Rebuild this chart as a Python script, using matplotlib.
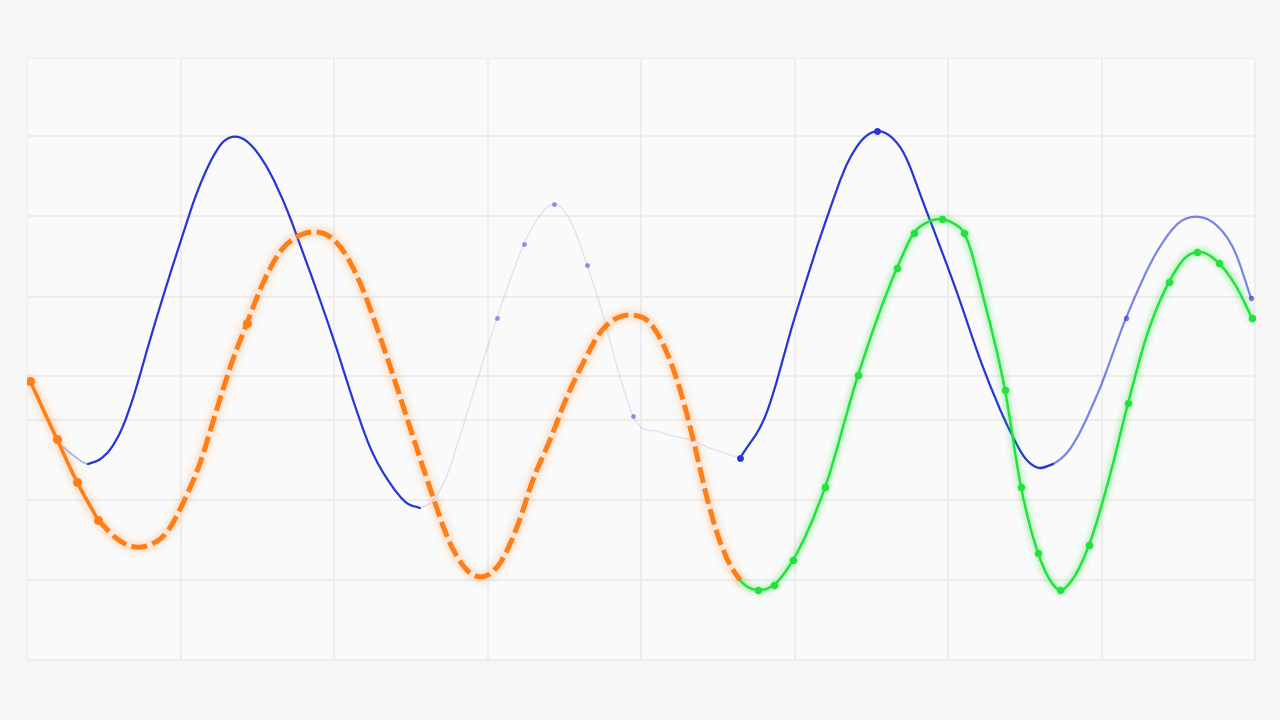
import numpy as np
import matplotlib.pyplot as plt
from matplotlib.path import Path
from matplotlib.patches import PathPatch

# values (x: 0..8 grid columns, y: arbitrary units)
blue_x = [0.228, 0.313, 0.397, 0.476, 0.541, 0.620, 0.700, 0.782, 0.886, 0.997,
          1.107, 1.212, 1.270, 1.342, 1.420, 1.472, 1.583, 1.694, 1.798, 1.909,
          2.020, 2.124, 2.235, 2.365, 2.476, 2.560, 2.625, 2.723, 2.853, 2.964,
          3.062, 3.147, 3.238, 3.329, 3.433, 3.537, 3.648, 3.752, 3.850, 3.948,
          4.124, 4.319, 4.482, 4.645, 4.808, 5.003, 5.199, 5.355, 5.440, 5.537,
          5.622, 5.700, 5.857, 6.046, 6.228, 6.410, 6.502, 6.593, 6.684, 6.775,
          6.977, 7.160, 7.368, 7.511, 7.622, 7.739, 7.870, 7.974]
blue_y = [2.675, 2.54, 2.45, 2.51, 2.63, 2.90, 3.33, 3.875, 4.54, 5.21,
          5.84, 6.29, 6.46, 6.54, 6.50, 6.41, 6.09, 5.625, 5.09, 4.50,
          3.875, 3.25, 2.66, 2.21, 1.96, 1.90, 1.96, 2.25, 3.00, 3.69,
          4.275, 4.75, 5.20, 5.525, 5.70, 5.50, 4.94, 4.31, 3.625, 3.05,
          2.85, 2.75, 2.625, 2.525, 3.04, 4.29, 5.46, 6.25, 6.50, 6.61,
          6.55, 6.375, 5.625, 4.66, 3.66, 2.84, 2.525, 2.40, 2.45, 2.59,
          3.34, 4.275, 5.125, 5.475, 5.54, 5.45, 5.10, 4.525]

orange_x = [0.020, 0.195, 0.326, 0.463, 0.580, 0.651, 0.723, 0.801, 0.912, 1.016,
            1.127, 1.225, 1.329, 1.433, 1.537, 1.648, 1.759, 1.863, 1.974, 2.085,
            2.189, 2.300, 2.410, 2.515, 2.625, 2.756, 2.866, 2.964, 3.081, 3.192,
            3.296, 3.407, 3.518, 3.622, 3.733, 3.844, 3.941, 4.059, 4.169, 4.274,
            4.352, 4.417, 4.495, 4.580, 4.645]
orange_y = [3.49, 2.76, 2.225, 1.75, 1.525, 1.44, 1.41, 1.44, 1.60, 1.96,
            2.46, 3.06, 3.69, 4.21, 4.71, 5.10, 5.29, 5.35, 5.29, 5.04,
            4.625, 4.04, 3.41, 2.79, 2.15, 1.46, 1.125, 1.04, 1.21, 1.66,
            2.25, 2.75, 3.29, 3.71, 4.09, 4.275, 4.31, 4.21, 3.84, 3.25,
            2.66, 2.125, 1.59, 1.19, 1.00]

green_x = [4.645, 4.664, 4.762, 4.866, 4.990, 5.199, 5.414, 5.668, 5.779, 5.870,
           5.961, 6.033, 6.104, 6.241, 6.371, 6.476, 6.586, 6.664, 6.730, 6.808,
           6.919, 7.055, 7.173, 7.296, 7.440, 7.544, 7.622, 7.765, 7.883, 7.980]
green_y = [1.00, 0.96, 0.875, 0.94, 1.25, 2.16, 3.56, 4.90, 5.34, 5.475,
           5.51, 5.46, 5.34, 4.45, 3.375, 2.16, 1.34, 1.00, 0.875, 1.00,
           1.44, 2.31, 3.21, 4.06, 4.725, 5.025, 5.10, 4.96, 4.65, 4.275]

x_grid = [0, 1, 2, 3, 4, 5, 6, 7, 8]
y_grid = [0, 1, 2, 3, 3.55, 4.54, 5.55, 6.55, 7.525]

BLUE = '#2436d6'
ORANGE = '#ff7e18'
GREEN = '#22e23c'


def smooth(x, y):
    # cubic hermite curve through the points (a chart library's "smooth" line)
    x = np.asarray(x, float)
    y = np.asarray(y, float)
    h = np.diff(x)
    d = np.diff(y) / h
    m = np.empty_like(y)
    m[0], m[-1] = d[0], d[-1]
    m[1:-1] = (d[:-1] * h[1:] + d[1:] * h[:-1]) / (h[:-1] + h[1:])
    verts = [(x[0], y[0])]
    codes = [Path.MOVETO]
    for i in range(len(x) - 1):
        t = h[i] / 3
        verts += [(x[i] + t, y[i] + m[i] * t),
                  (x[i + 1] - t, y[i + 1] - m[i + 1] * t),
                  (x[i + 1], y[i + 1])]
        codes += [Path.CURVE4] * 3
    return Path(verts, codes)


def line(ax, x, y, cap='round', **kw):
    ax.add_patch(PathPatch(smooth(x, y), fill=False, capstyle=cap,
                           joinstyle='round', **kw))


fig = plt.figure(figsize=(12.8, 7.2), dpi=100, facecolor='#f6f6f6')
ax = fig.add_axes([27 / 1280, 60 / 720, 1228 / 1280, 602 / 720])
ax.set_facecolor('#fafafa')
ax.set_xlim(0, 8)
ax.set_ylim(0, 7.525)
ax.set_xticks(x_grid)
ax.set_yticks(y_grid)
ax.grid(True, color='#ededed', lw=1.4)
ax.tick_params(length=0, labelbottom=False, labelleft=False)
for s in ax.spines.values():
    s.set_color('#efefef')

bx = np.array(blue_x)
by = np.array(blue_y)
ox = np.array(orange_x)
oy = np.array(orange_y)
gx = np.array(green_x)
gy = np.array(green_y)

# blue: segments with different opacity (frame of an animation)
line(ax, bx[0:4], by[0:4], edgecolor=BLUE, lw=1.3, alpha=0.35, zorder=3)
line(ax, bx[2:26], by[2:26], edgecolor=BLUE, lw=1.6, zorder=3)
line(ax, bx[25:44], by[25:44], edgecolor=BLUE, lw=1.0, alpha=0.12, zorder=3)
ax.plot(bx[[30, 32, 34, 36, 39]], by[[30, 32, 34, 36, 39]], 'o', color=BLUE,
        ms=3.5, alpha=0.5, mec='none', zorder=3)
line(ax, bx[43:59], by[43:59], edgecolor=BLUE, lw=1.6, zorder=3)
line(ax, bx[57:], by[57:], edgecolor=BLUE, lw=1.6, alpha=0.6, zorder=3)
ax.plot(bx[[43, 49]], by[[43, 49]], 'o', color=BLUE, ms=5, mec='none', zorder=3)
ax.plot(bx[[61, 67]], by[[61, 67]], 'o', color=BLUE, ms=4, alpha=0.6,
        mec='none', zorder=3)

# orange glow + dashed line
for lw, a in [(15, 0.03), (10, 0.05), (7, 0.07)]:
    line(ax, ox, oy, edgecolor=ORANGE, lw=lw, alpha=a, zorder=4)
line(ax, ox[:4], oy[:4], edgecolor=ORANGE, lw=2.6, zorder=5)
line(ax, ox[3:], oy[3:], cap='butt', edgecolor=ORANGE, lw=3.6,
     linestyle=(0, (3.2, 1.1)), zorder=5)
ax.plot(ox[[0, 1, 2, 3, 13]], oy[[0, 1, 2, 3, 13]], 'o', color=ORANGE,
        ms=6.5, mec='none', zorder=6)

# green glow + line
for lw, a in [(12, 0.04), (8, 0.07), (5, 0.1)]:
    line(ax, gx, gy, edgecolor=GREEN, lw=lw, alpha=a, zorder=4)
line(ax, gx, gy, edgecolor=GREEN, lw=1.8, zorder=5)
marks = [2, 3, 4, 5, 6, 7, 8, 10, 12, 14, 15, 16, 18, 20, 22, 24, 26, 27, 29]
ax.plot(gx[marks], gy[marks], 'o', color=GREEN, ms=5.5, mec='none', zorder=6)

fig.savefig('out.png', dpi=100, facecolor=fig.get_facecolor())
